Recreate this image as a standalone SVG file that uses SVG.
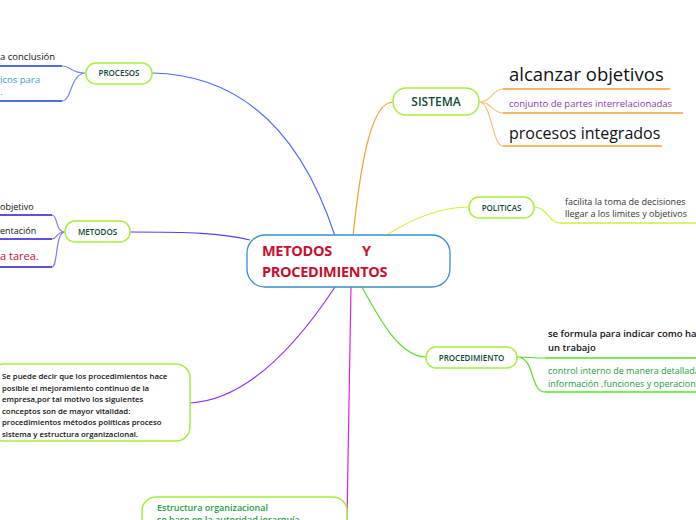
<svg xmlns="http://www.w3.org/2000/svg" width="696" height="520" viewBox="0 0 696 520">
<style>
.n{fill:#fff;stroke:#a8f03c;stroke-width:1.5}
.lab{font-family:"Open Sans","Noto Sans",sans-serif;font-size:8px;fill:#0d4a33;text-anchor:middle;font-weight:600}
.t{font-family:"Open Sans","Noto Sans",sans-serif;fill:#111}
.c{fill:none;stroke-width:1.2}
</style>
<g id="connectors">
<path class="c" stroke="#4a6cf7" d="M335,236 C310,160 260,75 152,73"/>
<path class="c" stroke="#6a8af7" d="M86,73 C70,73 72,66 62,66 M86,73 C70,73 72,101 62,101"/>
<path stroke="#1a3ce0" stroke-width="1.5" d="M0,66 H62 M0,101 H62"/>
<path class="c" stroke="#5a3cf0" d="M130,232 C190,232 220,233 250,240"/>
<path class="c" stroke="#8a7af0" d="M65,232 C55,232 58,215 52,215 M65,232 C55,232 58,239 52,239 M65,232 C55,232 58,267 52,267"/>
<path stroke="#2a1ad0" stroke-width="1.5" d="M0,215 H52 M0,239 H52 M0,267 H52"/>
<path class="c" stroke="#f5a030" d="M353,236 C360,170 370,102 393,102"/>
<path class="c" stroke="#f8c080" d="M479,102 C492,102 492,89 503,89 M479,102 C492,102 492,113 503,113 M479,102 C492,102 492,146 503,146"/>
<path stroke="#f5a030" stroke-width="1.5" d="M503,89 H670 M503,113 H683 M503,146 H662"/>
<path class="c" stroke="#d0f03c" d="M385,236 C410,220 440,207 469,207"/>
<path class="c" stroke="#d0f03c" d="M534,207 C548,207 548,223 560,223"/>
<path stroke="#c8f03c" stroke-width="1.5" d="M560,223 H696"/>
<path class="c" stroke="#55e02c" d="M362,287 C380,320 400,357 426,357"/>
<path class="c" stroke="#55e02c" d="M517,357 C530,357 532,358 545,358 M517,357 C535,357 530,392 545,392"/>
<path stroke="#55e02c" stroke-width="1.5" d="M545,358 H696 M545,392 H696"/>
<path class="c" stroke="#9a30f0" d="M335,287 C300,340 250,400 190,403"/>
<path class="c" stroke="#e020e0" d="M351,287 C350,370 348,440 347,520"/>
</g>
<g id="center">
<rect x="247" y="235" width="203" height="52" rx="18" fill="#fff" stroke="#3a8fd0" stroke-width="1.3"/>
<text font-family="'Open Sans','Noto Sans',sans-serif" font-size="14.5" font-weight="bold" fill="#c8102e" letter-spacing="-0.3"><tspan x="262" y="256">METODOS</tspan><tspan x="362" y="256">Y</tspan><tspan x="262" y="277">PROCEDIMIENTOS</tspan></text>
</g>
<g id="procesos">
<rect class="n" x="86" y="63" width="66" height="21" rx="10"/>
<text class="lab" x="119" y="76">PROCESOS</text>
<text class="t" x="0" y="60" font-size="9.5">a conclusión</text>
<text class="t" x="0" y="83" font-size="9.5" style="fill:#3a9ad9">icos para</text>
<text class="t" x="0" y="95" font-size="9.5" style="fill:#3a9ad9">.</text>
</g>
<g id="metodos">
<rect class="n" x="65" y="221" width="65" height="21" rx="10"/>
<text class="lab" x="97.5" y="235">METODOS</text>
<text class="t" x="0" y="210" font-size="9">objetivo</text>
<text class="t" x="0" y="234" font-size="9">entación</text>
<text class="t" x="0" y="260" font-size="11" style="fill:#c8102e">a tarea.</text>
</g>
<g id="sistema">
<rect class="n" x="393" y="88" width="86" height="27" rx="13"/>
<text class="lab" x="436" y="106" style="font-size:12px">SISTEMA</text>
<text class="t" x="509" y="81" font-size="18.5">alcanzar objetivos</text>
<text class="t" x="509" y="107" font-size="9.5" style="fill:#8a3ab0">conjunto de partes interrelacionadas</text>
<text class="t" x="509" y="139" font-size="16">procesos integrados</text>
</g>
<g id="politicas">
<rect class="n" x="469" y="197" width="65" height="21" rx="10"/>
<text class="lab" x="501.5" y="211">POLITICAS</text>
<text class="t" x="565" y="205" font-size="9" style="fill:#333">facilita la toma de decisiones</text>
<text class="t" x="565" y="217" font-size="9" style="fill:#333">llegar a los limites y objetivos</text>
</g>
<g id="procedimiento">
<rect class="n" x="426" y="347" width="91" height="21" rx="10"/>
<text class="lab" x="471.5" y="361">PROCEDIMIENTO</text>
<text class="t" x="548" y="337" font-size="9.5" font-weight="600">se formula para indicar como hacer</text>
<text class="t" x="548" y="351" font-size="9.5" font-weight="600">un trabajo</text>
<text class="t" x="548" y="374" font-size="9" style="fill:#1aa040">control interno de manera detallada</text>
<text class="t" x="548" y="387" font-size="9" style="fill:#1aa040">información ,funciones y operaciones</text>
</g>
<g id="nota">
<rect class="n" x="-10" y="364" width="200" height="77" rx="14"/>
<text class="t" font-size="7.8" font-weight="600"><tspan x="2" y="379">Se puede decir que los procedimientos hace</tspan><tspan x="2" y="390.5">posible el mejoramiento continuo de la</tspan><tspan x="2" y="402">empresa,por tal motivo los siguientes</tspan><tspan x="2" y="413.5">conceptos son  de mayor vitalidad:</tspan><tspan x="2" y="425">procedimientos  métodos  políticas proceso</tspan><tspan x="2" y="436.5">sistema y estructura organizacional.</tspan></text>
</g>
<g id="estructura">
<rect class="n" x="142" y="497" width="205" height="50" rx="14"/>
<text class="t" x="157" y="511" font-size="9" font-weight="600" style="fill:#1aa040">Estructura organizacional</text>
<text class="t" x="157" y="523" font-size="9" font-weight="600" style="fill:#1aa040">se base en  la autoridad jerarquía</text>
</g>
</svg>
